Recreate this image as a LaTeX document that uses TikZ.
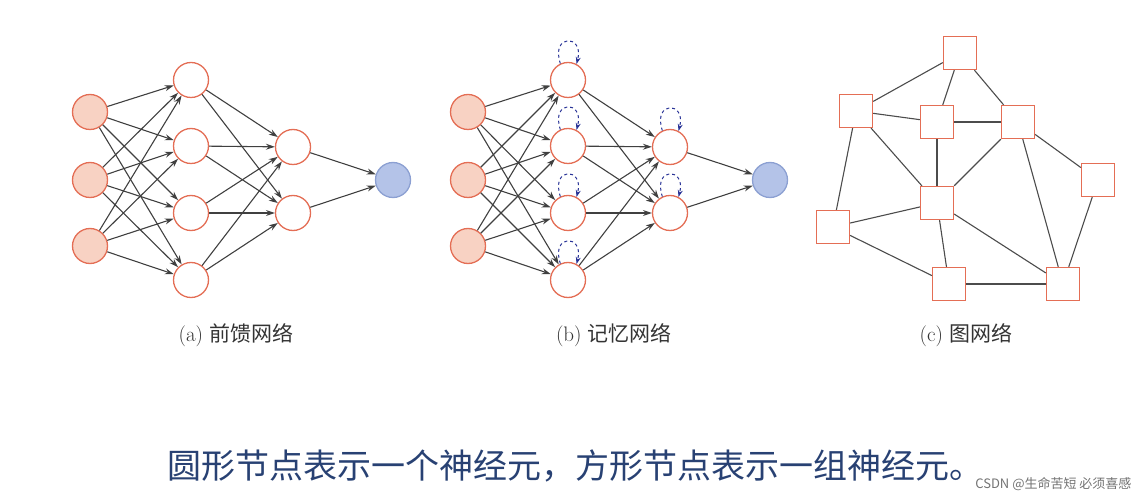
\documentclass[tikz,border=0pt]{standalone}
\usepackage{fontspec}
\newfontfamily\cjk{Noto Sans CJK SC}
\usetikzlibrary{arrows.meta}
\definecolor{ored}{RGB}{228,110,85}
\definecolor{ofill}{RGB}{248,210,195}
\definecolor{bfill}{RGB}{180,195,232}
\definecolor{bdraw}{RGB}{140,160,210}
\definecolor{loopc}{RGB}{40,50,150}
\definecolor{captc}{RGB}{40,65,115}
\tikzset{
 inn/.style={circle,draw=ored,fill=ofill,line width=1.3pt,minimum size=35pt,inner sep=0},
 hid/.style={circle,draw=ored,fill=white,line width=1.3pt,minimum size=35pt,inner sep=0},
 outn/.style={circle,draw=bdraw,fill=bfill,line width=1.3pt,minimum size=35pt,inner sep=0},
 sq/.style={rectangle,draw=ored,fill=white,line width=1.3pt,minimum size=33pt,inner sep=0},
 arr/.style={-{Stealth[length=9pt,width=6pt]},draw=black!75,line width=1.1pt},
 edge/.style={draw=black!70,line width=1.1pt},
 selfl/.style={-{Stealth[length=7pt,width=5pt]},dashed,draw=loopc,line width=1pt},
 capt/.style={font=\fontsize{21pt}{24pt}\selectfont,text=black!80}
}
\begin{document}
\begin{tikzpicture}[x=1pt,y=-1pt]
\useasboundingbox (0,0) rectangle (1145,502);
% (a)
\foreach \i/\y in {1/112,2/180,3/246}{\node[inn] (ai\i) at (90,\y) {};}
\foreach \i/\y in {1/80,2/146,3/213,4/280}{\node[hid] (ah\i) at (191,\y) {};}
\foreach \i/\y in {1/147,2/213}{\node[hid] (ag\i) at (293,\y) {};}
\node[outn] (ao) at (393,180) {};
\foreach \i in {1,2,3}{\foreach \j in {1,2,3,4}{\draw[arr] (ai\i) -- (ah\j);}}
\foreach \i in {1,2,3,4}{\foreach \j in {1,2}{\draw[arr] (ah\i) -- (ag\j);}}
\foreach \j in {1,2}{\draw[arr] (ag\j) -- (ao);}
\node[capt] (ca) at (236,335) {(a) {\cjk 前馈网络}};
% (b)
\foreach \i/\y in {1/112,2/180,3/246}{\node[inn] (bi\i) at (468,\y) {};}
\foreach \i/\y in {1/80,2/146,3/213,4/280}{\node[hid] (bh\i) at (568,\y) {};}
\foreach \i/\y in {1/147,2/213}{\node[hid] (bg\i) at (670,\y) {};}
\node[outn] (bo) at (770,180) {};
\foreach \i in {1,2,3}{\foreach \j in {1,2,3,4}{\draw[arr] (bi\i) -- (bh\j);}}
\foreach \i in {1,2,3,4}{\foreach \j in {1,2}{\draw[arr] (bh\i) -- (bg\j);}}
\foreach \j in {1,2}{\draw[arr] (bg\j) -- (bo);}
\foreach \n in {bh1,bh2,bh3,bh4,bg1,bg2}{\draw[selfl] (\n.115) .. controls +(-10,-30) and +(8,-30) .. (\n.62);}
\node[capt] (cb) at (614,335) {(b) {\cjk 记忆网络}};
% (c)
\node[sq] (A) at (960,53) {};
\node[sq] (B) at (856,111) {};
\node[sq] (C) at (937,122) {};
\node[sq] (D) at (1018,122) {};
\node[sq] (E) at (1098,180) {};
\node[sq] (F) at (937,203) {};
\node[sq] (G) at (833,227) {};
\node[sq] (H) at (949,284) {};
\node[sq] (I) at (1063,284) {};
\foreach \a/\b in {A/B,A/C,A/D,B/C,C/D,B/G,B/F,C/F,D/F,D/E,D/I,E/I,G/F,G/H,F/H,F/I,H/I}{\draw[edge] (\a) -- (\b);}
\node[capt] (cc) at (966,335) {(c) {\cjk 图网络}};
\node[font=\cjk\fontsize{34pt}{36pt}\selectfont,text=captc] (foot) at (575,466) {圆形节点表示一个神经元，方形节点表示一组神经元。};
\node[font=\cjk\fontsize{13pt}{15pt}\selectfont,text=black!55,anchor=east] (wm) at (1135,484) {CSDN @生命苦短 必须喜感};
\end{tikzpicture}
\end{document}
